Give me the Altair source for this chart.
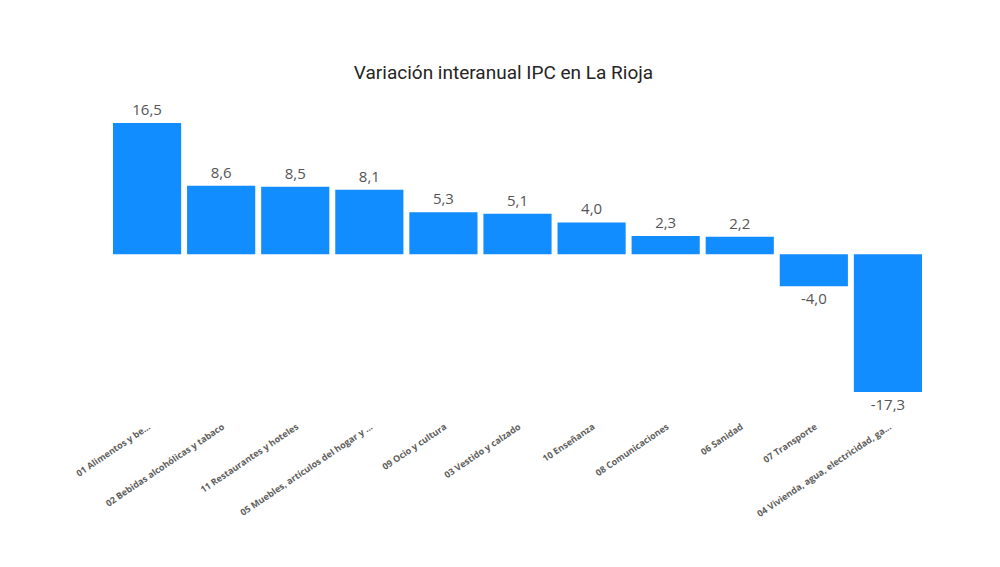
import altair as alt
import pandas as pd

categories = [
    "01 Alimentos y be...",
    "02 Bebidas alcohólicas y tabaco",
    "11 Restaurantes y hoteles",
    "05 Muebles, artículos del hogar y ...",
    "09 Ocio y cultura",
    "03 Vestido y calzado",
    "10 Enseñanza",
    "08 Comunicaciones",
    "06 Sanidad",
    "07 Transporte",
    "04 Vivienda, agua, electricidad, ga...",
]
values = [16.5, 8.6, 8.5, 8.1, 5.3, 5.1, 4.0, 2.3, 2.2, -4.0, -17.3]

df = pd.DataFrame({"cat": categories, "val": values})

x = alt.X(
    "cat:N",
    sort=categories,
    title=None,
    scale=alt.Scale(paddingInner=0.08, paddingOuter=0),
    axis=alt.Axis(
        labelAngle=-34,
        labelAlign="right",
        labelBaseline="top",
        labelFontSize=9,
        labelFontWeight="bold",
        labelColor="#605E5C",
        labelFont="Open Sans",
        labelPadding=30,
        ticks=False,
        domain=False,
        labelLimit=300,
    ),
)
y = alt.Y("val:Q", scale=alt.Scale(domain=[-17.3, 16.5], nice=False, zero=True), axis=None)

base = alt.Chart(df).transform_calculate(
    lbl="replace(replace(format(datum.val, '.1f'), '.', ','), '\u2212', '-')"
)

bars = base.mark_bar(color="#118DFF").encode(x=x, y=y)

pos = base.transform_filter("datum.val >= 0").mark_text(
    baseline="bottom", dy=-5, fontSize=15, color="#555555", font="Open Sans"
).encode(x=alt.X("cat:N", sort=categories), y="val:Q", text="lbl:N")

neg = base.transform_filter("datum.val < 0").mark_text(
    baseline="top", dy=6, fontSize=15, color="#555555", font="Open Sans"
).encode(x=alt.X("cat:N", sort=categories), y="val:Q", text="lbl:N")

chart = (
    alt.layer(bars, pos, neg)
    .properties(
        width=809,
        height=269,
        autosize="none",
        padding={"left": 113, "top": 123, "right": 78, "bottom": 175},
        title=alt.TitleParams(
            "Variación interanual IPC en La Rioja",
            font="Roboto",
            fontSize=19,
            fontWeight="normal",
            color="#252423",
            anchor="middle",
            offset=20,
            dx=-14,
        ),
    )
    .configure_view(stroke=None)
)

chart.save("out.html", embed_options={"renderer": "svg", "actions": False})
